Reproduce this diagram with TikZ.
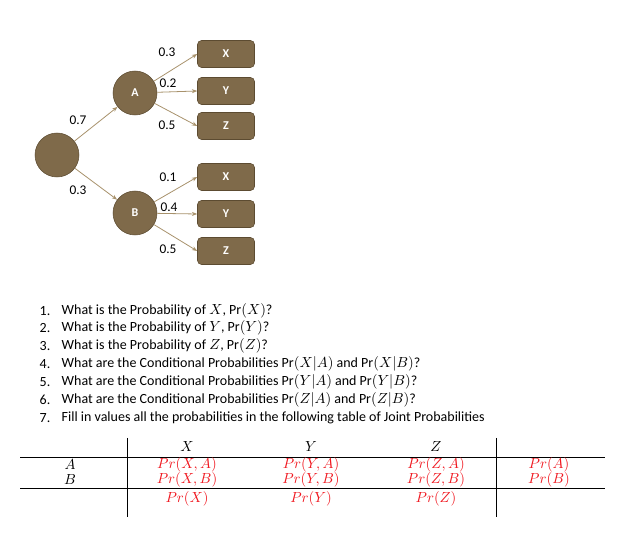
\documentclass[tikz,border=0pt]{standalone}
\usepackage{fontspec}
\setmainfont{Carlito}
\usetikzlibrary{arrows.meta}
\definecolor{nodebrown}{HTML}{7F6A4A}
\definecolor{edgebrown}{HTML}{5C4B31}
\definecolor{arrowtan}{HTML}{A8926C}
\definecolor{prred}{HTML}{F01820}
\begin{document}
\begin{tikzpicture}[x=0.75pt,y=-0.75pt,
  circ/.style={circle,fill=nodebrown,draw=edgebrown,minimum size=44*0.75pt,inner sep=0pt,text=white,font=\bfseries\small},
  leaf/.style={rounded corners=3pt,fill=nodebrown,draw=edgebrown,minimum width=57*0.75pt,minimum height=27*0.75pt,inner sep=0pt,text=white,font=\bfseries\small},
  br/.style={draw=arrowtan,line width=0.6pt,-{Stealth[length=4pt,width=3pt]}},
  pl/.style={font=\fontsize{10}{12}\selectfont},
  item/.style={anchor=west,font=\fontsize{10.5}{12}\selectfont},
  tb/.style={font=\fontsize{10.5}{12}\selectfont},
  red/.style={text=prred,font=\fontsize{10.5}{12}\selectfont}]
\useasboundingbox (0,0) rectangle (643,541);
\node[circ] (root) at (57,155) {};
\node[circ] (A) at (135,93) {A};
\node[circ] (B) at (135,213) {B};
\node[leaf] (AX) at (226,54) {X};
\node[leaf] (AY) at (226,91) {Y};
\node[leaf] (AZ) at (226,126) {Z};
\node[leaf] (BX) at (226,177) {X};
\node[leaf] (BY) at (226,214) {Y};
\node[leaf] (BZ) at (226,251) {Z};
\draw[br] (root) -- (A);
\draw[br] (root) -- (B);
\draw[br] (A) -- (AX.west);
\draw[br] (A) -- (AY.west);
\draw[br] (A) -- (AZ.west);
\draw[br] (B) -- (BX.west);
\draw[br] (B) -- (BY.west);
\draw[br] (B) -- (BZ.west);
\node[pl] (l1) at (78,120) {0.7};
\node[pl] (l2) at (78,190) {0.3};
\node[pl] (l3) at (167,52) {0.3};
\node[pl] (l4) at (168,83) {0.2};
\node[pl] (l5) at (167,125) {0.5};
\node[pl] (l6) at (168,177) {0.1};
\node[pl] (l7) at (169,207) {0.4};
\node[pl] (l8) at (168,249) {0.5};
\foreach \n/\y/\t in {1/311/{What is the Probability of $X$, $\Pr(X)$?},
  2/328/{What is the Probability of $Y$, $\Pr(Y)$?},
  3/346/{What is the Probability of $Z$, $\Pr(Z)$?},
  4/364/{What are the Conditional Probabilities $\Pr(X|A)$ and $\Pr(X|B)$?},
  5/382/{What are the Conditional Probabilities $\Pr(Y|A)$ and $\Pr(Y|B)$?},
  6/400/{What are the Conditional Probabilities $\Pr(Z|A)$ and $\Pr(Z|B)$?},
  7/418/{Fill in values all the probabilities in the following table of Joint Probabilities}}{
  \node[item] (n\n) at (35,\y) {\n.};
  \node[item] (q\n) at (57,\y) {\t};
}
\coordinate (h1a) at (20,457); \coordinate (h1b) at (605,457);
\coordinate (h2a) at (20,488); \coordinate (h2b) at (605,488);
\coordinate (v1a) at (127,438); \coordinate (v1b) at (127,517);
\coordinate (v2a) at (496,438); \coordinate (v2b) at (496,517);
\draw[line width=0.6pt] (h1a) -- (h1b) (h2a) -- (h2b) (v1a) -- (v1b) (v2a) -- (v2b);
\node[tb] (hx) at (187,447) {$X$};
\node[tb] (hy) at (311,447) {$Y$};
\node[tb] (hz) at (436,447) {$Z$};
\node[tb] (ra) at (70,465) {$A$};
\node[tb] (rb) at (70,480) {$B$};
\node[red] (xa) at (187,465) {$Pr(X,A)$};
\node[red] (ya) at (311,465) {$Pr(Y,A)$};
\node[red] (za) at (436,465) {$Pr(Z,A)$};
\node[red] (pa) at (549,465) {$Pr(A)$};
\node[red] (xb) at (187,480) {$Pr(X,B)$};
\node[red] (yb) at (311,480) {$Pr(Y,B)$};
\node[red] (zb) at (436,480) {$Pr(Z,B)$};
\node[red] (pb) at (549,480) {$Pr(B)$};
\node[red] (px) at (187,499) {$Pr(X)$};
\node[red] (py) at (311,499) {$Pr(Y)$};
\node[red] (pz) at (436,499) {$Pr(Z)$};
\end{tikzpicture}
\end{document}
